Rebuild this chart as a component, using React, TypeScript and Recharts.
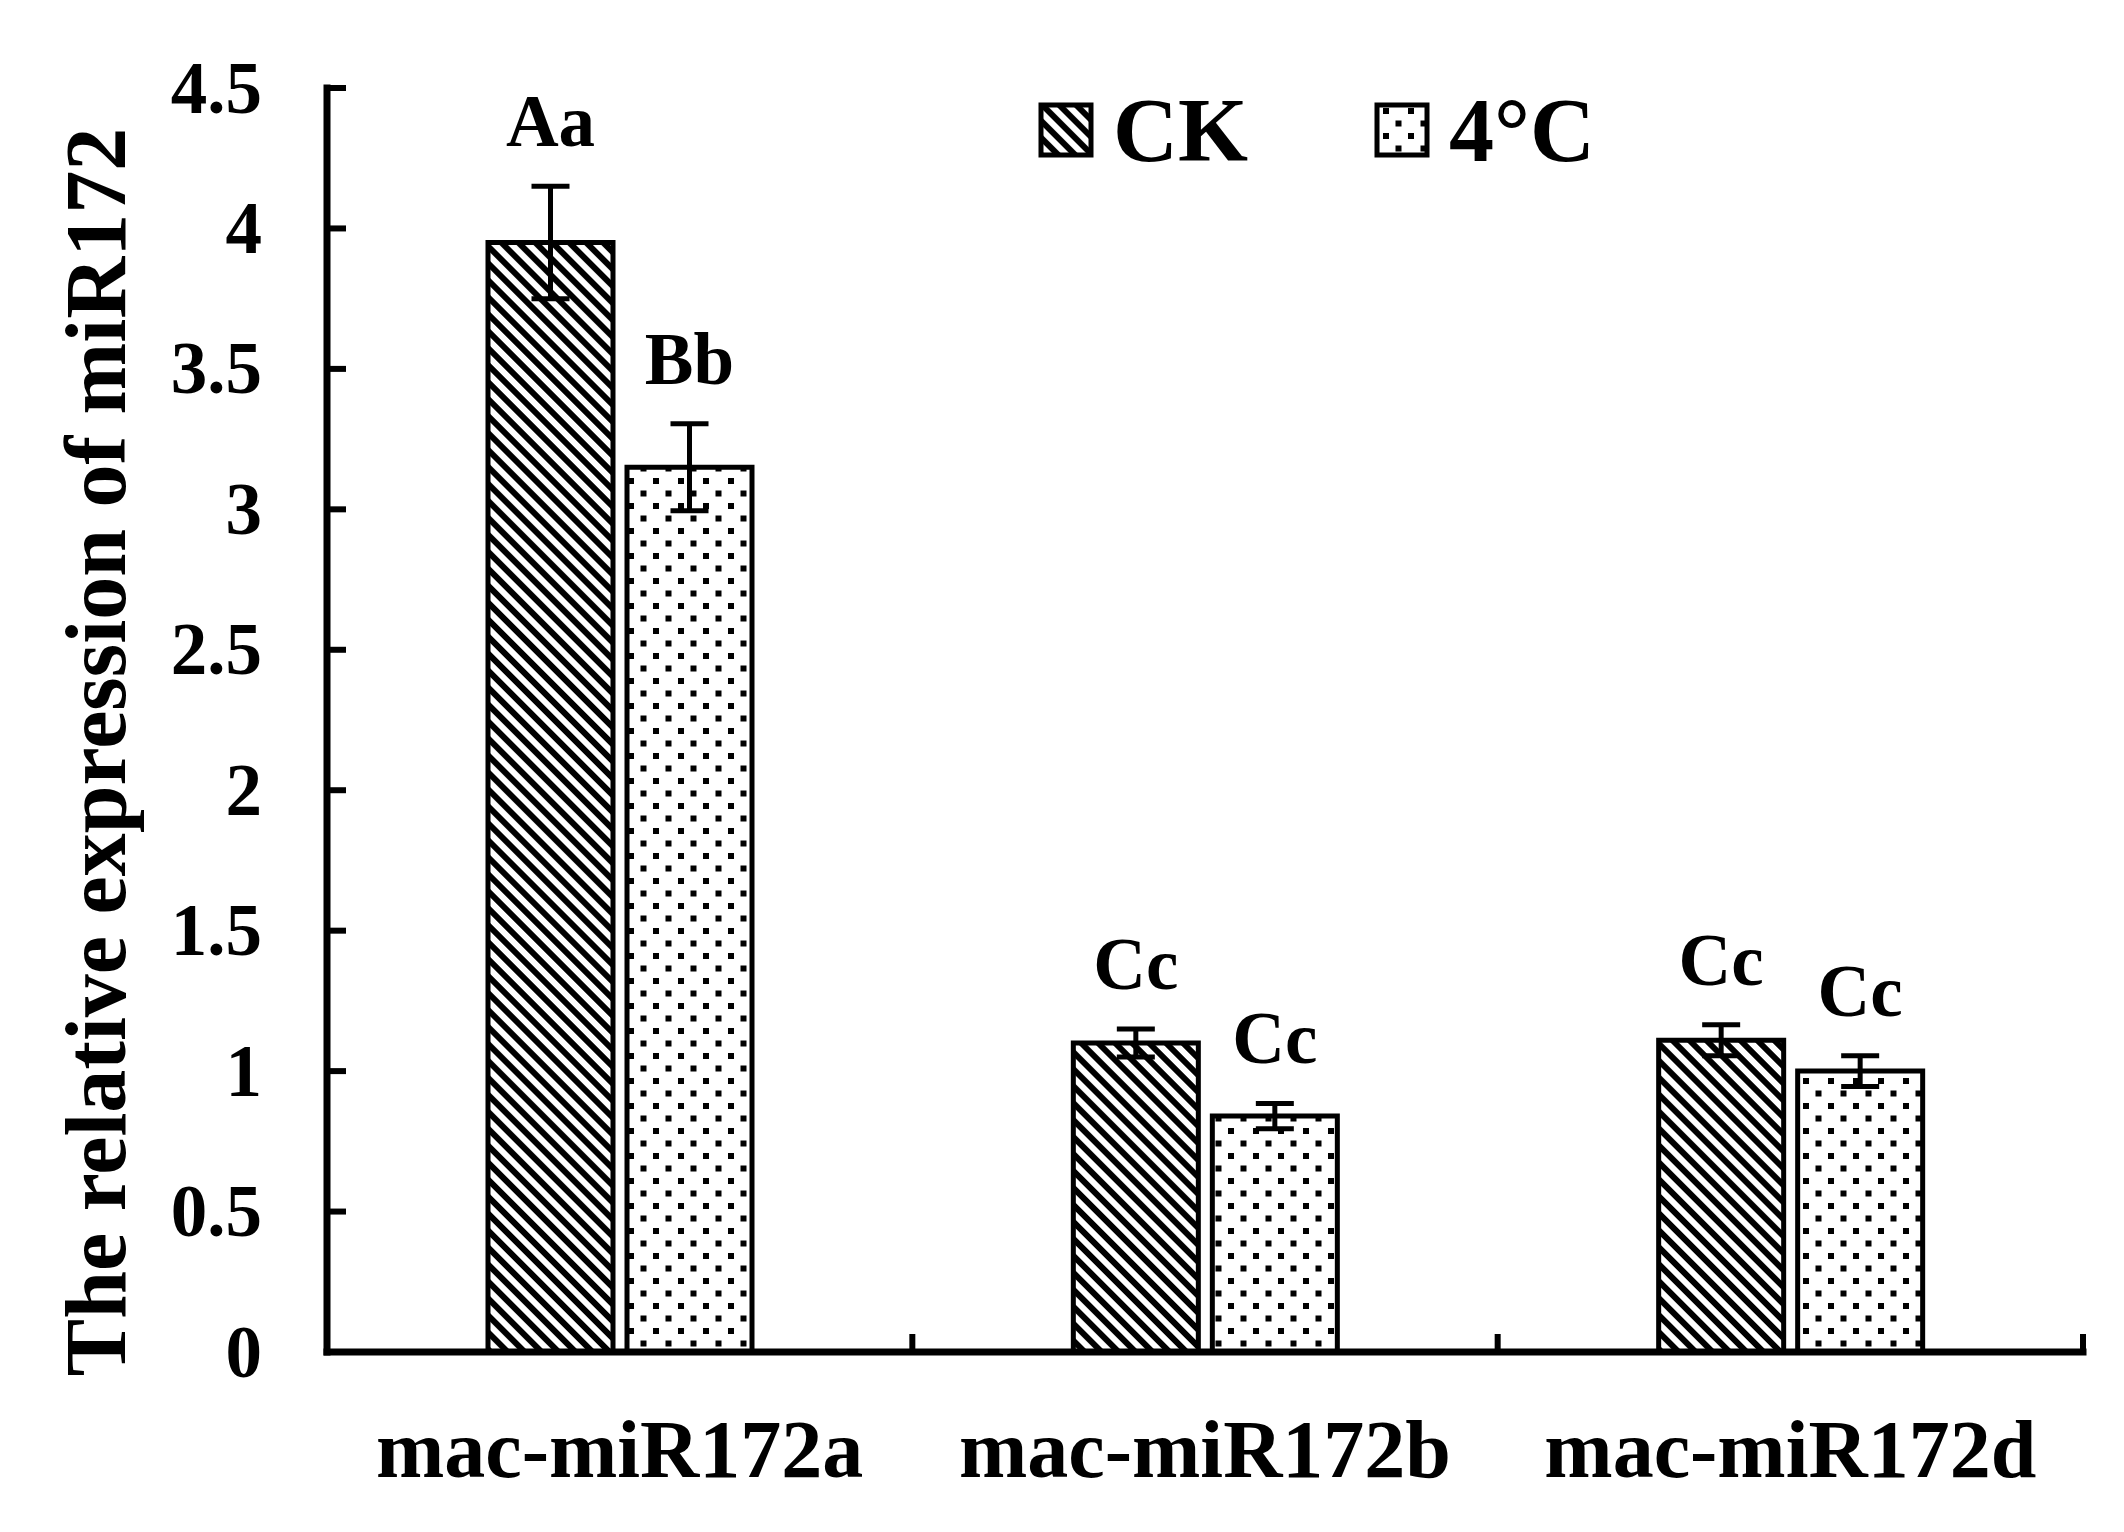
import { BarChart, Bar, XAxis, YAxis, ErrorBar, LabelList, Legend } from "recharts";

// values
const GENES = ["mac-miR172a", "mac-miR172b", "mac-miR172d"];
const CK_VALUES = [3.95, 1.1, 1.11];
const CK_ERRORS = [0.2, 0.05, 0.055];
const CK_LETTERS = ["Aa", "Cc", "Cc"];
const COLD_VALUES = [3.15, 0.84, 1.0];
const COLD_ERRORS = [0.155, 0.045, 0.055];
const COLD_LETTERS = ["Bb", "Cc", "Cc"];
const Y_TICKS = [0, 0.5, 1, 1.5, 2, 2.5, 3, 3.5, 4, 4.5];
const Y_MAX = 4.5;

const SERIES = [
  { name: "CK", fill: "url(#hatchCK)" },
  { name: "4°C", fill: "url(#dotsCold)" },
];

const data = GENES.map((gene, i) => ({
  gene,
  ck: CK_VALUES[i],
  ckErr: CK_ERRORS[i],
  ckLetter: CK_LETTERS[i],
  cold: COLD_VALUES[i],
  coldErr: COLD_ERRORS[i],
  coldLetter: COLD_LETTERS[i],
}));

const W = 2124;
const H = 1532;
const MARGIN = { top: 88, right: 41, left: 0, bottom: 0 };
const Y_AXIS_W = 327;
const X_AXIS_H = 180;
const PLOT_W = W - Y_AXIS_W - MARGIN.right;
const PLOT_H = H - MARGIN.top - X_AXIS_H;
const BAND = PLOT_W / GENES.length;
const FONT = '"Liberation Serif", "Times New Roman", serif';

const YTick = ({ x, y, payload }: any) => (
  <g>
    <line x1={x + 65} x2={x + 84} y1={y} y2={y} stroke="#000" strokeWidth={6} />
    <text
      x={x}
      y={y}
      textAnchor="end"
      dominantBaseline="central"
      fontFamily={FONT}
      fontWeight="bold"
      fontSize={73}
      fill="#000"
    >
      {payload.value}
    </text>
  </g>
);

const XTick = ({ x, y, payload }: any) => (
  <g>
    <line x1={x + BAND / 2} x2={x + BAND / 2} y1={y} y2={y - 18} stroke="#000" strokeWidth={6} />
    <text x={x} y={y + 125} textAnchor="middle" fontFamily={FONT} fontWeight="bold" fontSize={82} fill="#000">
      {payload.value}
    </text>
  </g>
);

const YLabel = () => (
  <text
    x={125}
    y={752}
    transform="rotate(-90, 125, 752)"
    textAnchor="middle"
    fontFamily={FONT}
    fontWeight="bold"
    fontSize={86}
    fill="#000"
  >
    The relative expression of miR172
  </text>
);

const letterContent = (errors: number[]) => (props: any) => {
  const { x, y, width, value, index } = props;
  const top = y - (errors[index] * PLOT_H) / Y_MAX;
  return (
    <text
      x={x + width / 2}
      y={top - 40}
      textAnchor="middle"
      fontFamily={FONT}
      fontWeight="bold"
      fontSize={73}
      fill="#000"
    >
      {value}
    </text>
  );
};

const renderLegend = () => (
  <svg width={620} height={110}>
    {SERIES.map((s, i) => {
      const sx = i === 0 ? 11 : 347;
      return (
        <g key={s.name}>
          <rect x={sx} y={25} width={50} height={50} fill={s.fill} stroke="#000" strokeWidth={5} />
          <text x={sx + 72} y={81} fontFamily={FONT} fontWeight="bold" fontSize={90} fill="#000">
            {s.name}
          </text>
        </g>
      );
    })}
  </svg>
);

export default function App() {
  return (
    <div style={{ position: "absolute", left: 0, top: 0, width: W, height: H, background: "#fff" }}>
      <svg width={0} height={0} style={{ position: "absolute" }}>
        <defs>
          <pattern id="hatchCK" patternUnits="userSpaceOnUse" width={12} height={12} patternTransform="rotate(-45)">
            <rect width={12} height={12} fill="#fff" />
            <rect width={6} height={12} fill="#000" />
          </pattern>
          <pattern id="dotsCold" patternUnits="userSpaceOnUse" width={25} height={25}>
            <rect width={25} height={25} fill="#fff" />
            <rect x={3} y={3} width={6} height={6} fill="#000" />
            <rect x={15.5} y={15.5} width={6} height={6} fill="#000" />
          </pattern>
        </defs>
      </svg>
      <BarChart width={W} height={H} data={data} margin={MARGIN} barSize={125} barGap={14}>
        <XAxis
          dataKey="gene"
          height={X_AXIS_H}
          axisLine={{ stroke: "#000", strokeWidth: 7, strokeLinecap: "square" }}
          tickLine={false}
          tickSize={0}
          tickMargin={0}
          interval={0}
          tick={<XTick />}
        />
        <YAxis
          type="number"
          width={Y_AXIS_W}
          domain={[0, Y_MAX]}
          ticks={Y_TICKS}
          interval={0}
          axisLine={{ stroke: "#000", strokeWidth: 7, strokeLinecap: "square" }}
          tickLine={false}
          tickSize={0}
          tickMargin={65}
          tick={<YTick />}
          label={{ content: () => <YLabel /> }}
        />
        <Legend
          layout="horizontal"
          verticalAlign="middle"
          align="center"
          wrapperStyle={{ left: 1030, top: 80, width: 620, height: 110 }}
          content={renderLegend}
        />
        <Bar dataKey="ck" name="CK" fill={SERIES[0].fill} stroke="#000" strokeWidth={5} isAnimationActive={false}>
          <ErrorBar dataKey="ckErr" width={19} stroke="#000" strokeWidth={5} direction="y" />
          <LabelList dataKey="ckLetter" content={letterContent(CK_ERRORS)} />
        </Bar>
        <Bar dataKey="cold" name="4°C" fill={SERIES[1].fill} stroke="#000" strokeWidth={5} isAnimationActive={false}>
          <ErrorBar dataKey="coldErr" width={19} stroke="#000" strokeWidth={5} direction="y" />
          <LabelList dataKey="coldLetter" content={letterContent(COLD_ERRORS)} />
        </Bar>
      </BarChart>
    </div>
  );
}
